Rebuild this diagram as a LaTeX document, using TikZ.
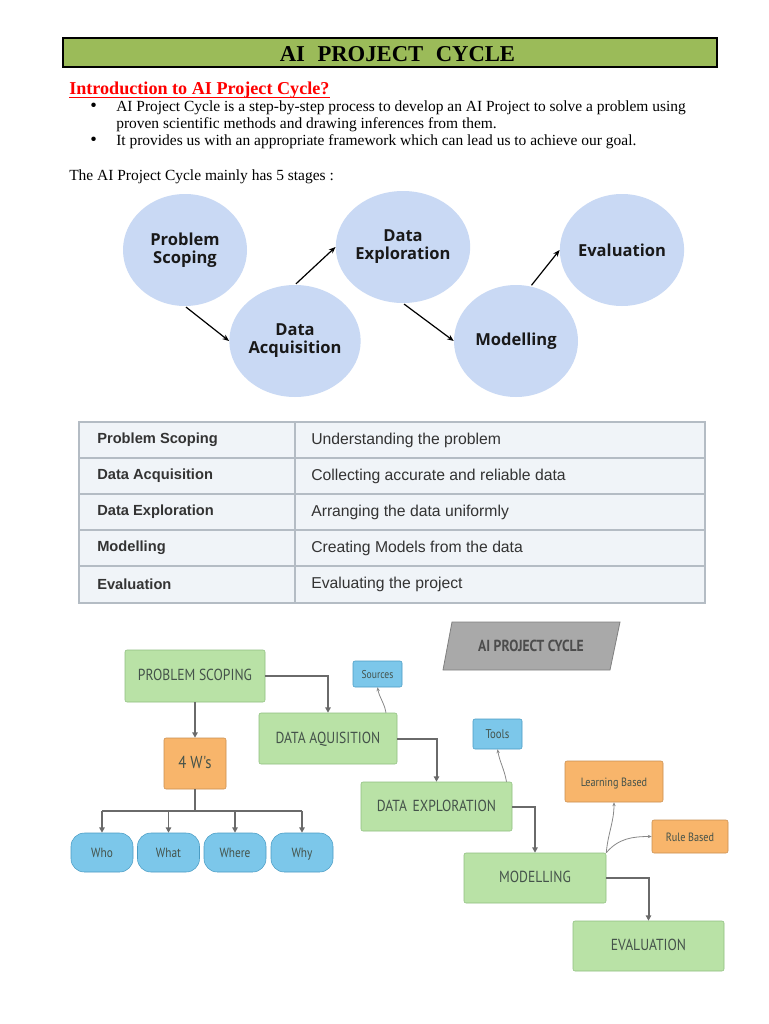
\documentclass[tikz,border=0pt]{standalone}
\usepackage{fontspec}
\setmainfont{Liberation Serif}
\newfontfamily\circfont{Open Sans}
\newfontfamily\tabfont{Liberation Sans}
\newfontfamily\diagfont[FakeStretch=0.85]{PT Sans}
\usetikzlibrary{arrows.meta,shapes.geometric,calc}
\definecolor{titlegreen}{HTML}{9BBB59}
\definecolor{circblue}{HTML}{C9D9F4}
\definecolor{tabbg}{HTML}{F0F4F8}
\definecolor{tabline}{HTML}{B4BCC4}
\definecolor{tabtext}{HTML}{333333}
\definecolor{boxgreen}{HTML}{B9E2A6}
\definecolor{boxgreenline}{HTML}{8FBF80}
\definecolor{boxorange}{HTML}{F8B56B}
\definecolor{boxorangeline}{HTML}{C98E50}
\definecolor{boxblue}{HTML}{7CC7EA}
\definecolor{boxblueline}{HTML}{4A9CC4}
\definecolor{pgray}{HTML}{A9A9A9}
\definecolor{pgrayline}{HTML}{808080}
\definecolor{connc}{HTML}{6A6A6A}
\definecolor{dtext}{HTML}{44524A}
\tikzset{
  stage/.style={ellipse, fill=circblue, minimum width=124*0.75pt, minimum height=112*0.75pt,
    inner sep=0, align=center, text=black!90,
    font=\circfont\fontsize{12.4}{13.5}\selectfont\bfseries},
  stagearrow/.style={draw=black, line width=0.9pt, -{Stealth[length=5pt,width=4pt]}, shorten <=1pt},
  tabl/.style={anchor=west, inner sep=0, text=tabtext, font=\tabfont\fontsize{11}{12}\selectfont\bfseries},
  tabr/.style={anchor=west, inner sep=0, text=tabtext, font=\tabfont\fontsize{11.8}{13}\selectfont},
  body/.style={anchor=base west, inner sep=0, font=\fontsize{11.6}{13}\selectfont},
  dtxt/.style={text height=0.7em, text depth=0em},
  gbox/.style={draw=boxgreenline, fill=boxgreen, rounded corners=1.5pt, inner sep=0, text=dtext, dtxt,
    font=\diagfont\fontsize{12}{13}\selectfont},
  obox/.style={draw=boxorangeline, fill=boxorange, rounded corners=1.5pt, inner sep=0, text=dtext, dtxt,
    font=\diagfont\fontsize{9}{11}\selectfont},
  bbox/.style={draw=boxblueline, fill=boxblue, rounded corners=1.5pt, inner sep=0, text=dtext, dtxt,
    font=\diagfont\fontsize{8.5}{10}\selectfont},
  wbox/.style={draw=boxblueline, fill=boxblue, rounded corners=10pt, inner sep=0, text=dtext, dtxt,
    minimum width=62*0.75pt, minimum height=39*0.75pt, font=\diagfont\fontsize{10}{12}\selectfont},
  flow/.style={draw=connc, line width=1.5pt, -{Triangle[length=4pt,width=4pt]}},
  side/.style={draw=connc!80, line width=0.6pt, -{Stealth[length=3pt,width=2.5pt]}},
}
\begin{document}
\begin{tikzpicture}[x=0.75pt,y=-0.75pt]
\useasboundingbox (0,0) rectangle (768,1024);
\fill[white] (0,0) rectangle (768,1024);
% title bar
\node[draw=black, fill=titlegreen, line width=0.8pt, minimum width=654*0.75pt, minimum height=29*0.75pt, inner sep=0] (titlebar) at (390,52.5) {};
\node[inner sep=0] (titletext) at (397.5,54) {\fontsize{17}{19}\selectfont\bfseries AI\hspace{0.55em}PROJECT\hspace{0.55em}CYCLE};
% intro
\node[anchor=base west, inner sep=0, text=red] (intro) at (69,94) {\fontsize{13.6}{15}\selectfont\bfseries Introduction to AI Project Cycle?};
\draw[red, line width=0.9pt] ($(intro.base west)+(0,3.5)$) -- ($(intro.base east)+(0,3.5)$);
\node[body] (bul1) at (90,111.5) {\fontsize{14}{13}\selectfont\textbullet};
\node[body] (txt1a) at (116,111.5) {AI Project Cycle is a step-by-step process to develop an AI Project to solve a problem using};
\node[body] (txt1b) at (116,128.5) {proven scientific methods and drawing inferences from them.};
\node[body] (bul2) at (90,145.5) {\fontsize{14}{13}\selectfont\textbullet};
\node[body] (txt2) at (116,145.5) {It provides us with an appropriate framework which can lead us to achieve our goal.};
\node[body] (txt3) at (69,180.5) {The AI Project Cycle mainly has 5 stages :};
% circles
\node[stage] (ps) at (185,250) {Problem\\Scoping};
\node[stage] (da) at (295,341) {Data\\Acquisition};
\node[stage] (de) at (403,247) {Data\\Exploration};
\node[stage] (mo) at (516,341) {Modelling};
\node[stage] (ev) at (622,250) {Evaluation};
\draw[stagearrow] (ps.south) -- (da.west);
\draw[stagearrow] (da.north) -- (de.west);
\draw[stagearrow] (de.south) -- (mo.west);
\draw[stagearrow] (mo.75) -- (ev.west);
% table
\fill[tabbg] (79,422) rectangle (705,603);
\draw[tabline, line width=0.8pt] (79,422) rectangle (705,603);
\foreach \yy in {458,494,530,566} \draw[tabline, line width=0.8pt] (79,\yy) -- (705,\yy);
\draw[tabline, line width=0.8pt] (295,422) -- (295,603);
\node[tabl] (t1l) at (97,440) {Problem Scoping};
\node[tabr] (t1r) at (311,440) {Understanding the problem};
\node[tabl] (t2l) at (97,476) {Data Acquisition};
\node[tabr] (t2r) at (311,476) {Collecting accurate and reliable data};
\node[tabl] (t3l) at (97,512) {Data Exploration};
\node[tabr] (t3r) at (311,512) {Arranging the data uniformly};
\node[tabl] (t4l) at (97,548) {Modelling};
\node[tabr] (t4r) at (311,548) {Creating Models from the data};
\node[tabl] (t5l) at (97,584.5) {Evaluation};
\node[tabr] (t5r) at (311,584.5) {Evaluating the project};
% bottom diagram
\filldraw[fill=pgray, draw=pgrayline, line width=0.6pt] (452,622) -- (620,622) -- (610,670) -- (443,670) -- cycle;
\node[inner sep=0, text=black!70, font=\diagfont\fontsize{12}{14}\selectfont\bfseries] (aipc) at (531,646) {AI PROJECT CYCLE};
\node[gbox, minimum width=140*0.75pt, minimum height=52*0.75pt] (bps) at (195,676) {PROBLEM SCOPING};
\node[obox, minimum width=62*0.75pt, minimum height=51*0.75pt, font=\diagfont\fontsize{13}{15}\selectfont] (w4) at (195,763.5) {4 W's};
\node[wbox] (who) at (102,852.5) {Who};
\node[wbox] (what) at (168.5,852.5) {What};
\node[wbox] (where) at (235,852.5) {Where};
\node[wbox] (why) at (302,852.5) {Why};
\node[gbox, minimum width=138*0.75pt, minimum height=51*0.75pt] (bda) at (328,738.5) {DATA AQUISITION};
\node[bbox, minimum width=49*0.75pt, minimum height=26*0.75pt] (src) at (377.5,674) {Sources};
\node[gbox, minimum width=151*0.75pt, minimum height=49*0.75pt] (bde) at (436.5,806.5) {DATA\hspace{0.35em}EXPLORATION};
\node[bbox, minimum width=49*0.75pt, minimum height=30*0.75pt, font=\diagfont\fontsize{9.5}{11}\selectfont] (tools) at (497.5,734) {Tools};
\node[gbox, minimum width=142*0.75pt, minimum height=50*0.75pt] (bmo) at (535,878) {MODELLING};
\node[obox, minimum width=98*0.75pt, minimum height=41*0.75pt] (lb) at (614,781.5) {Learning Based};
\node[obox, minimum width=76*0.75pt, minimum height=33*0.75pt] (rb) at (690,836.5) {Rule Based};
\node[gbox, minimum width=151*0.75pt, minimum height=50*0.75pt] (bev) at (648.5,946) {EVALUATION};
% flow connectors
\draw[flow] (bps.east) -| (bda.north);
\draw[flow] (bda.east) -| (bde.north);
\draw[flow] (bde.east) -| (bmo.north);
\draw[flow] (bmo.east) -| (bev.north);
\draw[flow] (bps.south) -- (w4.north);
\draw[draw=connc, line width=1.5pt] (w4.south) -- ++(0,22) coordinate (bus);
\draw[draw=connc, line width=1.5pt] (bus -| who.north) -- (bus -| why.north);
\foreach \n in {who,what,where,why} \draw[flow, line width=1.2pt] (bus -| \n.north) -- (\n.north);
% side connectors
\coordinate (dasrc) at ($(bda.north)+(58,0)$);
\draw[side] (dasrc) to[out=100,in=-80] (src.south);
\coordinate (detool) at ($(bde.north)+(70,0)$);
\draw[side] (detool) to[out=100,in=-80] (tools.south);
\draw[side] (bmo.north east) to[out=85,in=-90] (lb.south);
\draw[side] (bmo.north east) to[out=50,in=180] (rb.west);
\end{tikzpicture}
\end{document}
